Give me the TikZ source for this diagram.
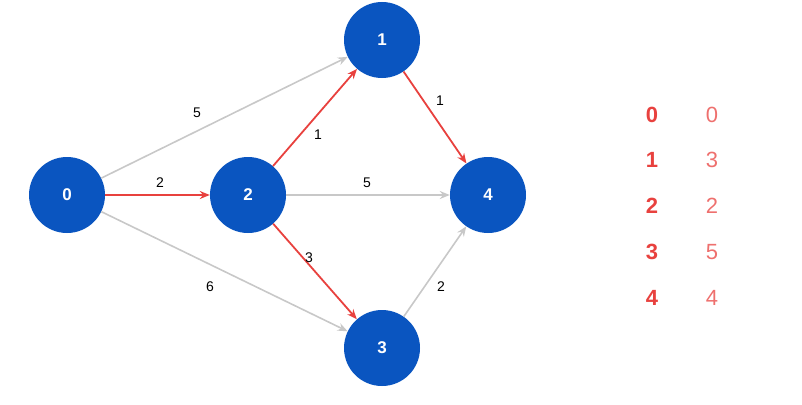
\documentclass[tikz,border=0pt]{standalone}
\usepackage{fontspec}
\setmainfont{Liberation Sans}
\usetikzlibrary{arrows.meta}
\definecolor{nodeblue}{HTML}{0A55C0}
\definecolor{edgered}{HTML}{E8413E}
\definecolor{edgegray}{HTML}{C8C8C8}
\begin{document}
\begin{tikzpicture}[x=1pt,y=-1pt,
  v/.style={circle,fill=nodeblue,minimum size=76pt,inner sep=0pt,text=white,font=\bfseries\fontsize{17}{17}\selectfont},
  e/.style={draw=edgegray,line width=1.6pt,-{Stealth[length=10pt,width=8pt]}},
  r/.style={draw=edgered,line width=1.8pt,-{Stealth[length=10pt,width=8pt]}},
  lab/.style={font=\fontsize{14}{14}\selectfont},
  tk/.style={text=edgered,font=\bfseries\fontsize{22}{22}\selectfont},
  tv/.style={text=edgered!75,font=\fontsize{22}{22}\selectfont}]
\useasboundingbox (0,0) rectangle (802,404);
\node[v] (n0) at (67,195) {0};
\node[v] (n2) at (248,195) {2};
\node[v] (n1) at (382,40) {1};
\node[v] (n4) at (488,195) {4};
\node[v] (n3) at (382,348) {3};
\draw[e] (n0) -- (n1);
\draw[r] (n0) -- (n2);
\draw[e] (n0) -- (n3);
\draw[r] (n2) -- (n1);
\draw[e] (n2) -- (n4);
\draw[r] (n2) -- (n3);
\draw[r] (n1) -- (n4);
\draw[e] (n3) -- (n4);
\node[lab] (l01) at (197,113) {5};
\node[lab] (l02) at (160,183) {2};
\node[lab] (l21) at (318,135) {1};
\node[lab] (l24) at (367,183) {5};
\node[lab] (l14) at (440,101) {1};
\node[lab] (l23) at (309,258) {3};
\node[lab] (l03) at (210,287) {6};
\node[lab] (l34) at (441,287) {2};
\node[tk] (k0) at (652,115) {0}; \node[tv] (w0) at (712,115) {0};
\node[tk] (k1) at (652,160) {1}; \node[tv] (w1) at (712,160) {3};
\node[tk] (k2) at (652,206) {2}; \node[tv] (w2) at (712,206) {2};
\node[tk] (k3) at (652,252) {3}; \node[tv] (w3) at (712,252) {5};
\node[tk] (k4) at (652,298) {4}; \node[tv] (w4) at (712,298) {4};
\end{tikzpicture}
\end{document}
